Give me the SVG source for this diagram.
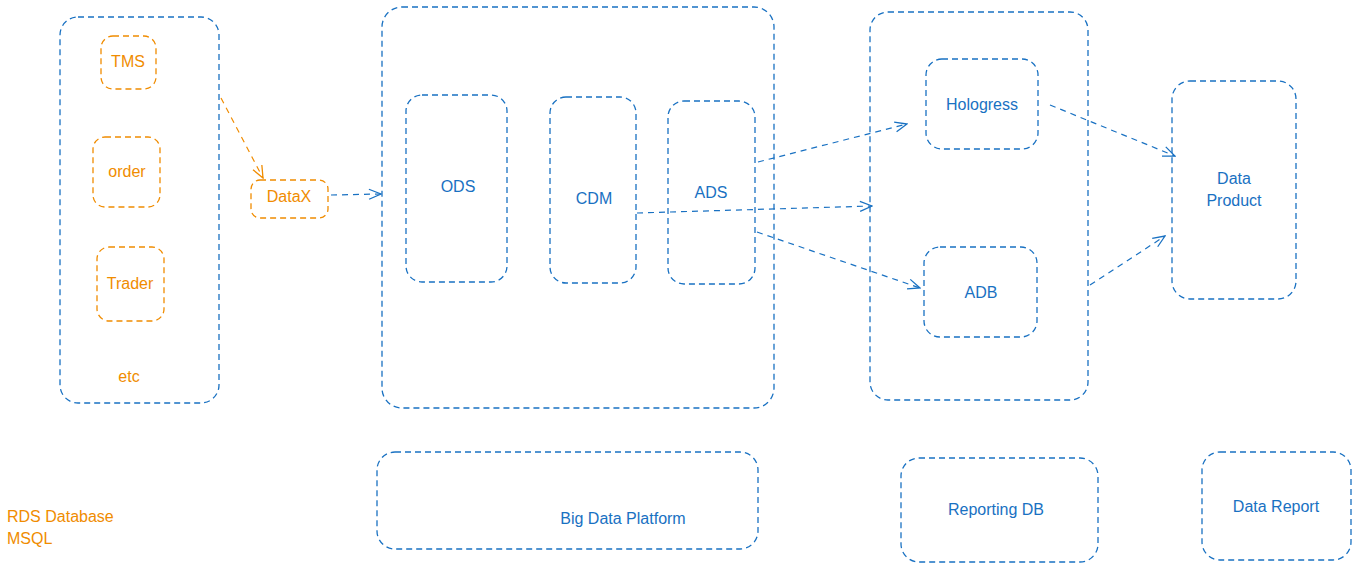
<svg xmlns="http://www.w3.org/2000/svg" width="1358" height="570" viewBox="0 0 1358 570">
<style>
.b{fill:none;stroke:#1971c2;stroke-width:1.3;stroke-dasharray:6 4}
.o{fill:none;stroke:#f08c00;stroke-width:1.3;stroke-dasharray:6 4}
.tb{fill:#1971c2;font-family:"Liberation Sans",sans-serif;font-size:16px;text-anchor:middle}
.to{fill:#f08c00;font-family:"Liberation Sans",sans-serif;font-size:16px;text-anchor:middle}
.cb{fill:none;stroke:#1971c2;stroke-width:1.2;stroke-dasharray:6 5}
.co{fill:none;stroke:#f08c00;stroke-width:1.2;stroke-dasharray:6 5}
</style>
<defs>
<marker id="ab" markerWidth="14" markerHeight="12" refX="13" refY="6" orient="auto" markerUnits="userSpaceOnUse"><path d="M1 1 L13 6 L1 11" fill="none" stroke="#1971c2" stroke-width="1.3"/></marker>
<marker id="ao" markerWidth="14" markerHeight="12" refX="13" refY="6" orient="auto" markerUnits="userSpaceOnUse"><path d="M1 1 L13 6 L1 11" fill="none" stroke="#f08c00" stroke-width="1.3"/></marker>
</defs>
<g id="sources"><rect class="b" x="60" y="17" width="159" height="386" rx="18"/><text class="to" x="129" y="382">etc</text></g>
<g id="tms"><rect class="o" x="101" y="36" width="55" height="53" rx="12"/><text class="to" x="128" y="67">TMS</text></g>
<g id="order"><rect class="o" x="93" y="137" width="67" height="70" rx="12"/><text class="to" x="127" y="177">order</text></g>
<g id="trader"><rect class="o" x="97" y="247" width="67" height="74" rx="12"/><text class="to" x="130" y="289">Trader</text></g>
<g id="datax"><rect class="o" x="251" y="180" width="77" height="38" rx="9"/><text class="to" x="289" y="202">DataX</text></g>
<g id="bdp"><rect class="b" x="382" y="7" width="392" height="401" rx="20"/></g>
<g id="ods"><rect class="b" x="406" y="95" width="101" height="187" rx="16"/><text class="tb" x="458" y="192">ODS</text></g>
<g id="cdm"><rect class="b" x="550" y="97" width="86" height="186" rx="16"/><text class="tb" x="594" y="204">CDM</text></g>
<g id="ads"><rect class="b" x="668" y="101" width="87" height="183" rx="16"/><text class="tb" x="711" y="198">ADS</text></g>
<g id="db"><rect class="b" x="870" y="12" width="218" height="388" rx="18"/></g>
<g id="hologress"><rect class="b" x="926" y="59" width="112" height="90" rx="16"/><text class="tb" x="982" y="110">Hologress</text></g>
<g id="adb"><rect class="b" x="924" y="247" width="113" height="90" rx="16"/><text class="tb" x="981" y="298">ADB</text></g>
<g id="product"><rect class="b" x="1172" y="81" width="124" height="218" rx="18"/><text class="tb" x="1234" y="184">Data</text><text class="tb" x="1234" y="206">Product</text></g>
<g id="bigdata"><rect class="b" x="377" y="452" width="381" height="97" rx="18"/><text class="tb" x="623" y="524">Big Data Platform</text></g>
<g id="reporting"><rect class="b" x="901" y="458" width="197" height="104" rx="18"/><text class="tb" x="996" y="515">Reporting DB</text></g>
<g id="report"><rect class="b" x="1202" y="452" width="149" height="108" rx="18"/><text class="tb" x="1276" y="512">Data Report</text></g>
<g id="rds"><text class="to" x="7" y="522" style="text-anchor:start">RDS Database</text><text class="to" x="7" y="544" style="text-anchor:start">MSQL</text></g>
<g id="connectors">
<path class="co" d="M221 98 L263 178" marker-end="url(#ao)"/>
<path class="cb" d="M331 195 L381 194" marker-end="url(#ab)"/>
<path class="cb" d="M758 162 L907 124" marker-end="url(#ab)"/>
<path class="cb" d="M637 213 L872 206" marker-end="url(#ab)"/>
<path class="cb" d="M757 232 L920 288" marker-end="url(#ab)"/>
<path class="cb" d="M1050 105 L1175 156" marker-end="url(#ab)"/>
<path class="cb" d="M1090 285 L1165 236" marker-end="url(#ab)"/>
</g>
</svg>
